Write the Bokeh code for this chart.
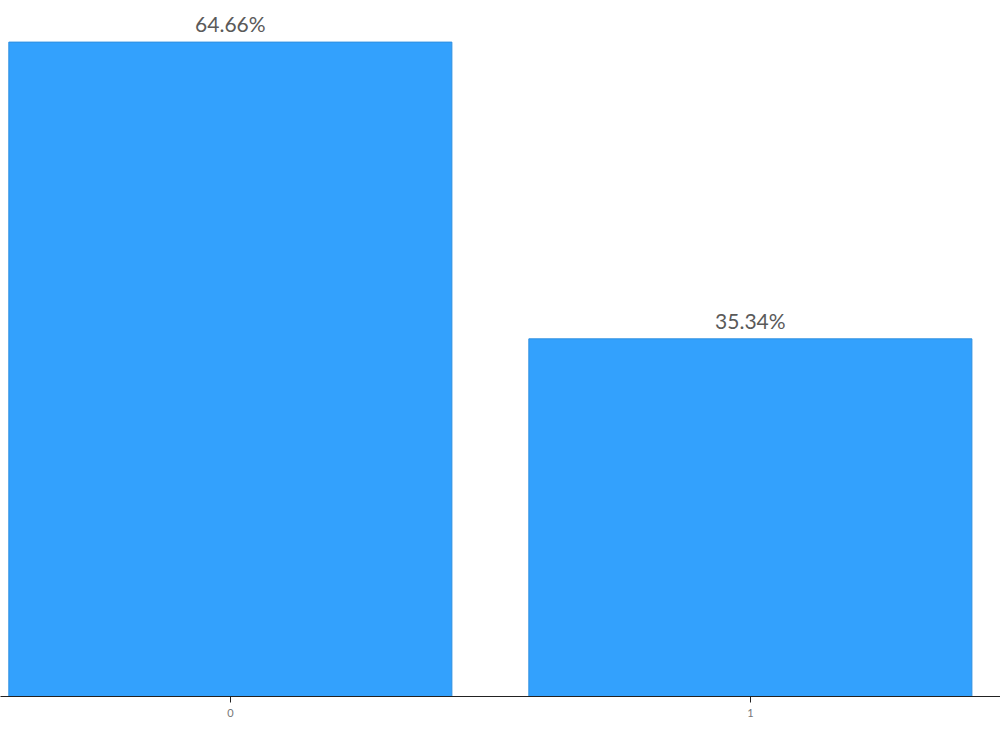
from bokeh.plotting import figure
from bokeh.models import ColumnDataSource, Range1d, FixedTicker, LabelSet
from bokeh.core.properties import value
from bokeh.embed import file_html
from bokeh.resources import INLINE
import numpy as np

categories = ["0", "1"]
values = [64.66, 35.34]
labels = ["64.66%", "35.34%"]

xs = np.arange(len(categories))
src = ColumnDataSource(dict(x=xs, top=values, label=labels))

p = figure(frame_width=1000, frame_height=696, output_backend="svg",
           toolbar_location=None, x_range=Range1d(-0.442, 1.481),
           y_range=Range1d(0, 68.77), min_border=0)
p.vbar(x="x", top="top", width=0.852, source=src,
       fill_color="#33a1fd", line_color="#2f8fe0", line_width=1)

lab = LabelSet(x="x", y="top", text="label", source=src, text_align="center",
               text_baseline="bottom", y_offset=6, text_font=value("Lato"),
               text_font_size="21px", text_color="#5a5a5a")
p.add_layout(lab)

p.yaxis.visible = False
p.xgrid.visible = False
p.ygrid.visible = False
p.outline_line_color = None
p.xaxis.ticker = FixedTicker(ticks=list(xs))
p.xaxis.major_label_overrides = {int(i): c for i, c in zip(xs, categories)}
p.xaxis.minor_tick_line_color = None
p.xaxis.axis_line_color = "#222222"
p.xaxis.major_tick_line_color = "#222222"
p.xaxis.major_tick_out = 6
p.xaxis.major_tick_in = 0
p.xaxis.major_label_standoff = 6
p.xaxis.major_label_text_font = "Lato"
p.xaxis.major_label_text_font_size = "11px"
p.xaxis.major_label_text_color = "#777777"

open("out.html", "w").write(file_html(p, INLINE))
